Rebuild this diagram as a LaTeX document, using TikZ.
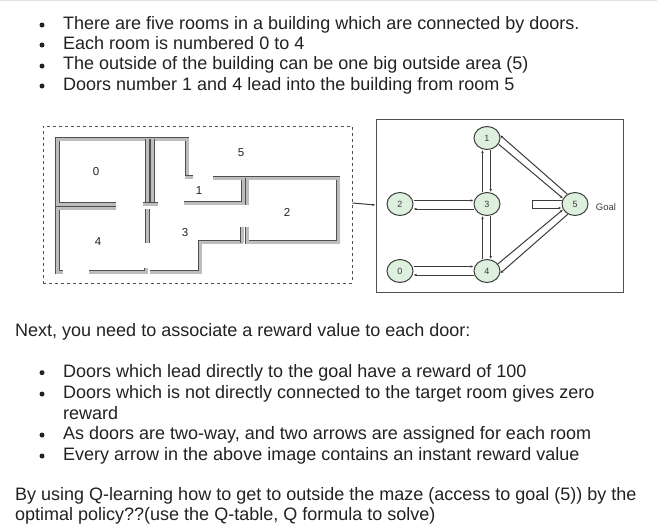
\documentclass[tikz,border=0pt]{standalone}
\usepackage{fontspec}
\setmainfont{Liberation Sans}
\usetikzlibrary{shapes.geometric,arrows.meta}
\definecolor{ink}{HTML}{222222}
\definecolor{wallc}{HTML}{505050}
\definecolor{wallf}{HTML}{BDBDBD}
\definecolor{gr}{HTML}{DDEFDD}
\definecolor{edgec}{HTML}{3C3C3C}
\tikzset{
 txt/.style={anchor=base west,inner sep=0pt,text=ink,font=\fontsize{18}{20}\selectfont},
 bul/.style={circle,fill=ink,inner sep=0pt,minimum size=5pt},
 wall/.style={draw=wallc,line width=.9pt,double=wallf,double distance=3pt},
 room/.style={inner sep=0pt,text=ink,font=\fontsize{11.5}{12}\selectfont},
 st/.style={ellipse,draw=edgec,line width=1pt,fill=gr,minimum width=26pt,minimum height=23pt,inner sep=0pt,text=edgec,font=\fontsize{9}{9}\selectfont},
 arr/.style={draw=edgec,line width=1pt,-{Latex[length=3pt,width=2.6pt]}},
}
\begin{document}
\begin{tikzpicture}[x=1pt,y=-1pt]
\useasboundingbox (0,0) rectangle (657,531);
\fill[white] (0,0) rectangle (657,531);
\fill[black!12] (0,0) rectangle (657,1);
% top list
\node[bul] (b1) at (42,25) {}; \node[txt] (t1) at (63,29) {There are five rooms in a building which are connected by doors.};
\node[bul] (b2) at (42,45) {}; \node[txt] (t2) at (63,49) {Each room is numbered 0 to 4};
\node[bul] (b3) at (42,66) {}; \node[txt] (t3) at (63,69.5) {The outside of the building can be one big outside area (5)};
\node[bul] (b4) at (42,86) {}; \node[txt] (t4) at (63,90) {Doors number 1 and 4 lead into the building from room 5};
% floor plan
\node[draw=wallc,dashed,line width=1pt,minimum width=309pt,minimum height=157pt,inner sep=0pt] (plan) at (197.5,204.5) {};
\draw[wall] (116,204) -- (57.3,204) -- (57.3,139) -- (187,139) -- (187,175);
\draw[wall] (147.3,139) -- (147.3,204);
\draw[wall] (152.3,139) -- (152.3,204);
\draw[wall] (116,208) -- (57.3,208) -- (57.3,272) -- (63,272);
\draw[wall] (143,204) -- (158,204);
\draw[wall] (147.3,209) -- (147.3,243);
\draw[wall] (89,272) -- (146,272) -- (146,268);
\draw[wall] (150,272) -- (200,272) -- (200,242) -- (243,242);
\draw[wall] (185,177) -- (193,177);
\draw[wall] (184,203) -- (243,203) -- (243,180);
\draw[wall] (213,178) -- (338,178) -- (338,242) -- (247,242) -- (247,227);
\draw[wall] (247,178) -- (247,205);
\draw[wall] (242,227) -- (242,243);
\node[room] (r5) at (241,153) {5};
\node[room] (r0) at (96,172) {0};
\node[room] (r1) at (199,191) {1};
\node[room] (r2) at (287,212.5) {2};
\node[room] (r3) at (185,233) {3};
\node[room] (r4) at (98,242) {4};
% graph
\node[draw=wallc,line width=1pt,minimum width=247pt,minimum height=173pt,inner sep=0pt] (box) at (499.5,205.5) {};
\draw[arr] ([yshift=1.5pt]plan.east) -- ([yshift=.5pt]box.west);
\node[st] (n1) at (487,138) {1};
\node[st] (n2) at (400,204) {2};
\node[st] (n3) at (487,204) {3};
\node[st] (n0) at (400,271) {0};
\node[st] (n4) at (487,271) {4};
\node[st] (n5) at (575,204) {5};
\node[inner sep=0pt,text=edgec,font=\fontsize{9.5}{10}\selectfont] (goal) at (606,207) {Goal};
\draw[arr] ([xshift=-4.5pt]n3.north) -- ([xshift=-4.5pt]n1.south);
\draw[arr] ([xshift=3.7pt]n1.south) -- ([xshift=3.7pt]n3.north);
\draw[arr] ([xshift=-4.5pt]n4.north) -- ([xshift=-4.5pt]n3.south);
\draw[arr] ([xshift=3.7pt]n3.south) -- ([xshift=3.7pt]n4.north);
\draw[arr] ([yshift=-5pt]n3.west) -- ([yshift=-5pt]n2.east);
\draw[arr] ([yshift=3.5pt]n2.east) -- ([yshift=3.5pt]n3.west);
\draw[arr] ([yshift=-4pt]n4.west) -- ([yshift=-4pt]n0.east);
\draw[arr] ([yshift=4.5pt]n0.east) -- ([yshift=4.5pt]n4.west);
\draw[arr] (n5.128) -- (n1.12);
\draw[arr] (n1.-28) -- (n5.155);
\draw[arr] (n4.33) -- (n5.205);
\draw[arr] (n5.235) -- (n4.-10);
\coordinate (la) at (532,200);
\coordinate (lb) at (532,208);
\draw[arr] (n5.west|-la) -- (la) -- (lb) -- (n5.west|-lb);
% lower text
\node[txt] (t5) at (15,336.7) {Next, you need to associate a reward value to each door:};
\node[bul] (b6) at (42,372.7) {}; \node[txt] (t6) at (63,377.5) {Doors which lead directly to the goal have a reward of 100};
\node[bul] (b7) at (42,394) {}; \node[txt] (t7) at (63,398) {Doors which is not directly connected to the target room gives zero};
\node[txt] (t8) at (63,419) {reward};
\node[bul] (b9) at (42,435) {}; \node[txt] (t9) at (63,439) {As doors are two-way, and two arrows are assigned for each room};
\node[bul] (b10) at (42,456) {}; \node[txt] (t10) at (63,460) {Every arrow in the above image contains an instant reward value};
\node[txt] (t11) at (15,500) {By using Q-learning how to get to outside the maze (access to goal (5)) by the};
\node[txt] (t12) at (15,520) {optimal policy??(use the Q-table, Q formula to solve)};
\end{tikzpicture}
\end{document}
